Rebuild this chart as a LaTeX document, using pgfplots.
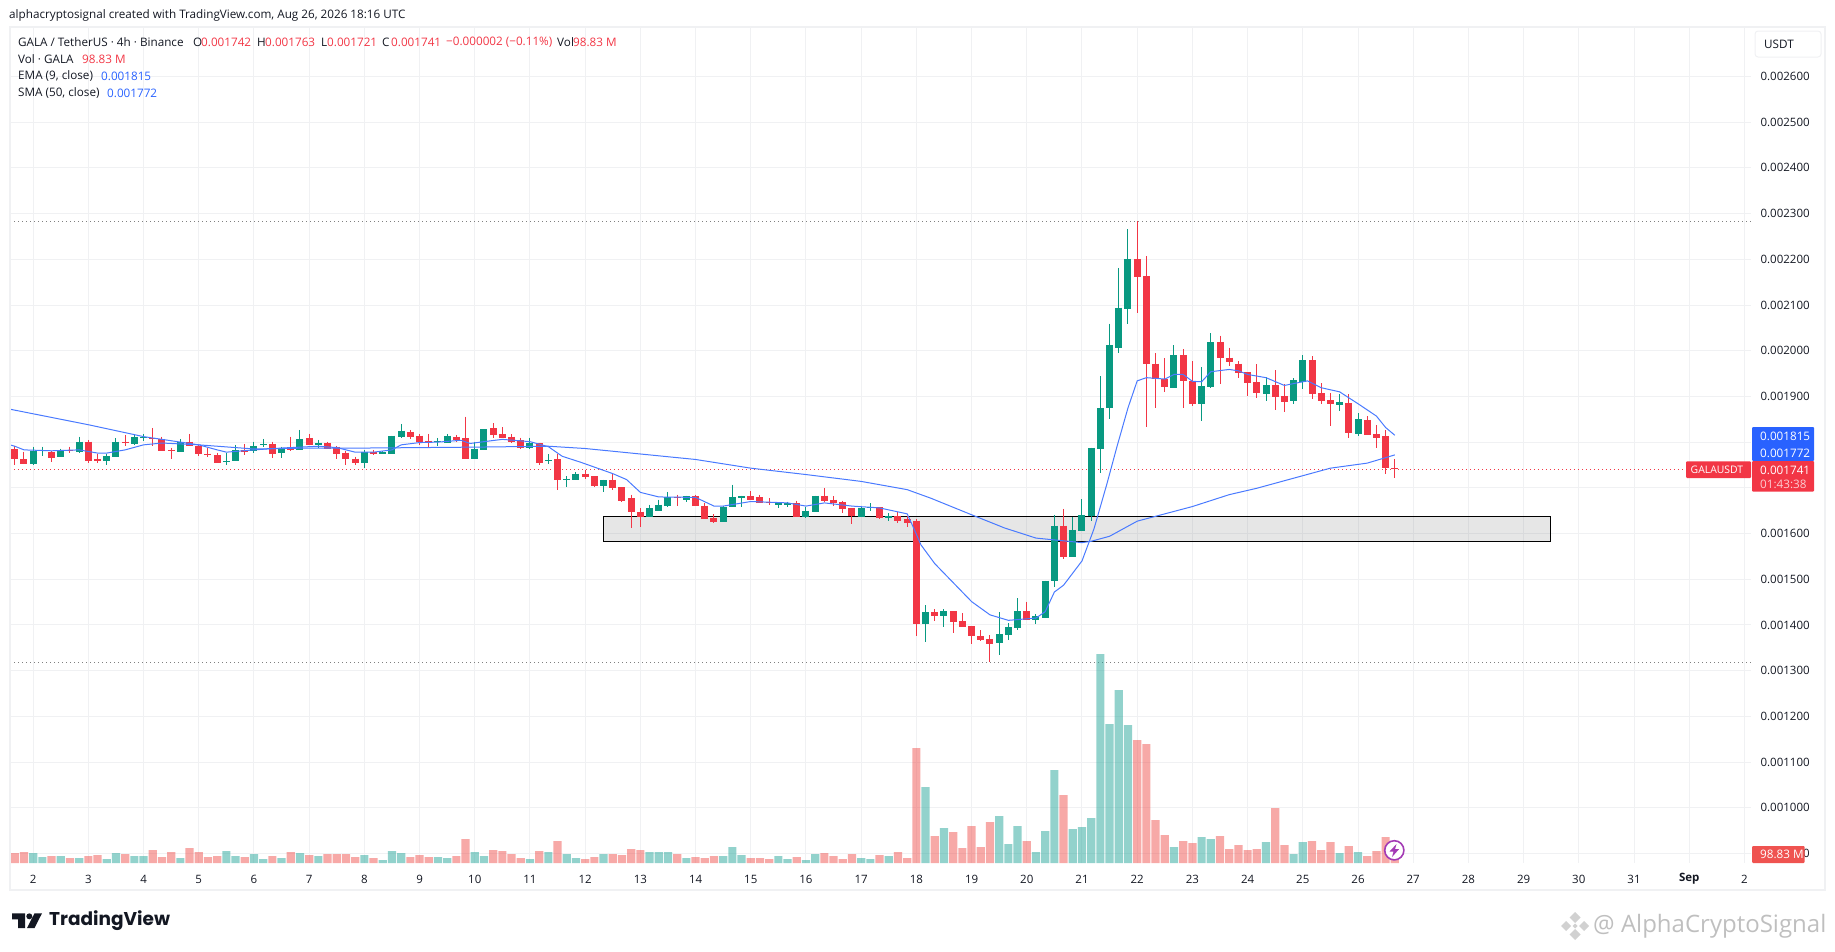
\documentclass[border=0pt]{standalone}
\usepackage{fontspec}
\setmainfont{Open Sans}
\newfontfamily\logofont{Poppins}
\usepackage{pgfplots}
\usepackage{pgfplotstable}
\pgfplotsset{compat=1.18}

\definecolor{tvred}{HTML}{F23645}
\definecolor{tvgreen}{HTML}{089981}
\definecolor{tvblue}{HTML}{2962FF}
\definecolor{tvtext}{HTML}{131722}
\definecolor{tvgrid}{HTML}{F0F1F3}
\definecolor{volred}{HTML}{EF5350}
\definecolor{volgreen}{HTML}{26A69A}
\definecolor{tvpurple}{HTML}{A33AB5}

% k = candles since the 2nd (6 per day), prices in millionths of USDT, v in millions
\pgfplotstableread{
k o h l c v
-2 1786 1792 1751 1762 330
-1 1762 1779 1753 1753 363
0 1753 1790 1751 1781 330
1 1780 1790 1770 1782 198
2 1779 1781 1757 1766 231
3 1768 1786 1768 1783 231
4 1783 1790 1777 1781 165
5 1779 1812 1777 1801 165
6 1801 1805 1755 1759 231
7 1762 1775 1755 1759 264
8 1759 1775 1749 1770 132
9 1768 1809 1768 1801 330
10 1801 1816 1792 1799 297
11 1796 1816 1794 1812 231
12 1810 1818 1803 1812 231
13 1809 1831 1792 1807 429
14 1807 1812 1781 1781 198
15 1783 1788 1764 1781 363
16 1779 1807 1779 1801 165
17 1801 1818 1792 1792 495
18 1792 1794 1770 1775 363
19 1775 1788 1768 1772 198
20 1772 1777 1755 1755 231
21 1757 1777 1749 1759 396
22 1759 1794 1759 1783 231
23 1783 1796 1772 1779 198
24 1781 1801 1777 1792 297
25 1794 1807 1790 1796 132
26 1796 1801 1766 1775 231
27 1777 1790 1766 1788 165
28 1790 1812 1781 1783 363
29 1783 1827 1783 1807 330
30 1809 1818 1794 1794 264
31 1794 1805 1788 1799 231
32 1799 1801 1786 1786 297
33 1790 1792 1764 1775 297
34 1777 1781 1751 1762 297
35 1764 1768 1751 1755 198
36 1755 1783 1744 1779 264
37 1779 1783 1772 1775 165
38 1775 1781 1775 1778 99
39 1775 1814 1775 1814 396
40 1812 1840 1809 1825 330
41 1822 1827 1807 1812 198
42 1814 1818 1794 1801 264
43 1803 1818 1790 1801 198
44 1800 1809 1792 1802 198
45 1799 1818 1799 1814 165
46 1812 1816 1801 1805 231
47 1808 1856 1762 1764 792
48 1764 1801 1762 1786 363
49 1782 1828 1782 1828 231
50 1830 1841 1808 1815 429
51 1817 1832 1808 1810 396
52 1812 1817 1799 1801 297
53 1804 1810 1786 1788 165
54 1788 1810 1784 1797 132
55 1797 1797 1751 1755 396
56 1758 1773 1753 1760 363
57 1762 1773 1696 1716 726
58 1718 1725 1701 1720 297
59 1718 1734 1718 1731 165
60 1731 1738 1720 1723 132
61 1725 1725 1701 1705 198
62 1703 1718 1690 1716 297
63 1718 1731 1696 1699 297
64 1701 1701 1670 1672 264
65 1677 1685 1613 1646 462
66 1648 1655 1615 1637 429
67 1637 1663 1637 1655 363
68 1650 1674 1650 1663 363
69 1661 1690 1657 1679 363
70 1679 1685 1661 1677 297
71 1674 1683 1670 1681 165
72 1681 1685 1661 1661 198
73 1661 1666 1631 1631 165
74 1633 1642 1622 1626 231
75 1626 1661 1626 1659 231
76 1657 1707 1657 1679 528
77 1677 1683 1659 1681 264
78 1681 1692 1674 1674 165
79 1679 1685 1666 1666 165
80 1668 1677 1663 1666 132
81 1663 1666 1655 1666 231
82 1663 1670 1657 1666 132
83 1666 1672 1637 1637 198
84 1637 1657 1635 1650 99
85 1648 1683 1648 1683 297
86 1683 1699 1670 1672 330
87 1674 1681 1661 1666 231
88 1668 1672 1644 1653 132
89 1655 1655 1620 1639 297
90 1637 1661 1637 1655 165
91 1657 1666 1650 1659 132
92 1657 1657 1631 1633 264
93 1633 1644 1628 1639 231
94 1639 1646 1624 1628 363
95 1631 1639 1615 1624 165
96 1628 1632 1375 1401 3795
97 1401 1443 1362 1428 2508
98 1428 1434 1408 1419 891
99 1419 1434 1395 1430 1155
100 1430 1430 1382 1406 1023
101 1408 1425 1395 1395 495
102 1397 1397 1358 1375 1221
103 1375 1388 1364 1367 528
104 1369 1378 1318 1358 1353
105 1360 1428 1334 1380 1551
106 1378 1404 1367 1395 627
107 1393 1458 1388 1430 1221
108 1430 1451 1410 1410 726
109 1410 1423 1401 1419 363
110 1415 1497 1415 1497 1056
111 1495 1641 1482 1617 3069
112 1617 1654 1545 1549 2244
113 1549 1636 1549 1608 1122
114 1606 1675 1606 1641 1188
115 1638 1788 1628 1788 1485
116 1786 1944 1733 1875 6897
117 1875 2059 1851 2012 4587
118 2007 2181 1994 2094 5709
119 2092 2266 2059 2201 4554
120 2201 2283 2083 2162 4059
121 2164 2207 1833 1970 3927
122 1972 1994 1875 1938 1419
123 1938 1983 1909 1920 924
124 1918 2012 1918 1990 528
125 1990 2003 1875 1933 726
126 1933 1977 1879 1883 660
127 1883 1964 1846 1922 858
128 1920 2038 1918 2018 792
129 2018 2033 1927 1983 891
130 1985 2007 1966 1975 462
131 1972 1977 1940 1951 594
132 1953 1953 1900 1929 429
133 1931 1970 1896 1907 462
134 1905 1942 1889 1924 693
135 1924 1957 1870 1898 1815
136 1900 1927 1865 1887 594
137 1889 1940 1883 1935 297
138 1931 1990 1916 1979 693
139 1979 1988 1894 1905 726
140 1907 1929 1883 1889 429
141 1892 1907 1835 1883 693
142 1881 1905 1868 1887 330
143 1885 1905 1809 1820 561
144 1817 1863 1813 1850 363
145 1848 1857 1815 1815 231
146 1817 1837 1787 1809 396
147 1813 1826 1730 1743 858
148 1743 1763 1721 1741 99
}\candles

\pgfplotstableread{
k p
-2.52 1872
6 1838
12 1812
18 1794
24 1785
30 1787
36 1787
42 1788
48 1789
56 1791
60 1786
66 1774
72 1762
78 1743
84 1729
90 1714
95 1696
97.6 1677
102 1641
105.6 1612
109 1590
111 1586
114 1580
115 1583
117 1594
120 1627
123 1643
126 1659
130 1685
133 1699
141 1743
145 1754
148 1772
}\sma

\pgfplotstableread{
k p
-2.52 1794
-2 1791
-1 1783
2 1781
5 1783
7 1776
8 1776
10 1783
12 1794
14 1798
18 1794
20 1783
21 1778
24 1783
27 1787
31 1791
33 1788
35 1778
37 1778
39 1783
40 1794
42 1799
44 1800
46.5 1804
47.5 1797
49 1801
51 1806
54 1801
56 1790
57.5 1769
59.5 1756
63 1731
64.5 1718
66 1690
68 1680
72 1679
74 1660
75 1660
78 1670
82 1667
84 1660
86 1667
89 1660
92 1656
95 1643
95.7 1612
96.5 1575
98 1534
102 1451
104 1422
106 1410
109 1415
110 1429
111 1472
112 1487
114 1540
115.3 1610
116.7 1708
117.8 1790
119 1875
120 1934
121 1941
123 1938
124 1948
125 1948
126 1933
127 1932
128 1954
130 1959
131 1956
132 1948
134 1941
136 1924
138.5 1934
140 1919
142 1910
144 1884
146 1857
147 1832
148 1815
}\ema

\pgfplotsset{
  wick/.style={draw=none, mark=none, forget plot,
    error bars/.cd, y dir=minus, y explicit, error mark=none,
    error bar style={line width=1pt, draw=#1}},
  body/.style={draw=none, mark=none, forget plot,
    error bars/.cd, y dir=minus, y explicit, error mark=none,
    error bar style={line width=7pt, draw=#1}},
}

\newcommand\txt[4]{\node[anchor=west, inner sep=0pt, text=#3, font=\fontsize{11.7}{13}\selectfont] at (#1,#2) {#4};}

\begin{document}
\begin{tikzpicture}
\useasboundingbox (0pt,0pt) rectangle (1835pt,-951pt);

\begin{axis}[
  at={(10pt,-863pt)}, anchor=south west, scale only axis,
  width=1741pt, height=836pt,
  xmin=-2.52, xmax=186.72, ymin=879, ymax=2708.3,
  axis line style={draw=none},
  major tick length=0pt,
  xmajorgrids, ymajorgrids,
  grid style={tvgrid, line width=1pt},
  xtick={0,6,...,186},
  xticklabels={2,3,4,5,6,7,8,9,10,11,12,13,14,15,16,17,18,19,20,21,22,23,24,25,26,27,28,29,30,31,\textbf{Sep},2},
  ytick={900,1000,...,2600},
  % 0.001700 and 0.001800 sit behind the price boxes
  yticklabels={0.000900,0.001000,0.001100,0.001200,0.001300,0.001400,0.001500,0.001600,,,0.001900,0.002000,0.002100,0.002200,0.002300,0.002400,0.002500,0.002600},
  yticklabel pos=right,
  tick label style={font=\fontsize{11.5}{13}\selectfont, text=tvtext},
  xticklabel style={anchor=center, yshift=-16pt},
  yticklabel style={anchor=west, xshift=6pt},
]
% support zone
\addplot[fill=gray, fill opacity=0.2, draw=black, line width=1pt] coordinates {(62,1583) (164.9,1583) (164.9,1638) (62,1638)} --cycle;
% high, low and last price
\addplot[draw=gray, line width=1pt, dash pattern=on 1pt off 3pt] coordinates {(-2.52,2283) (186.72,2283)};
\addplot[draw=gray, line width=1pt, dash pattern=on 1pt off 3pt] coordinates {(-2.52,1318) (186.72,1318)};
\addplot[draw=tvred, line width=1pt, dash pattern=on 1pt off 3pt] coordinates {(-2.52,1741) (186.72,1741)};

\addplot[wick=tvgreen] table[x=k, y expr={\thisrow{c}>\thisrow{o} ? \thisrow{h} : nan}, y error minus expr={\thisrow{h}-\thisrow{l}}] {\candles};
\addplot[wick=tvred] table[x=k, y expr={\thisrow{c}>\thisrow{o} ? nan : \thisrow{h}}, y error minus expr={\thisrow{h}-\thisrow{l}}] {\candles};
\addplot[body=tvgreen] table[x=k, y expr={\thisrow{c}>\thisrow{o} ? \thisrow{c} : nan}, y error minus expr={abs(\thisrow{c}-\thisrow{o})}] {\candles};
\addplot[body=tvred] table[x=k, y expr={\thisrow{c}>\thisrow{o} ? nan : \thisrow{o}}, y error minus expr={abs(\thisrow{c}-\thisrow{o})}] {\candles};

\addplot[draw=tvblue!85!white, line width=1pt] table[x=k, y=p] {\sma};
\addplot[draw=tvblue!85!white, line width=1pt] table[x=k, y=p] {\ema};
\end{axis}

% volume pane, 33 M to the pixel
\begin{axis}[
  at={(10pt,-863pt)}, anchor=south west, scale only axis,
  width=1741pt, height=836pt,
  xmin=-2.52, xmax=186.72, ymin=0, ymax=27588,
  hide axis, ybar, bar width=8.2pt, bar shift=0pt,
]
\addplot[fill=volgreen, fill opacity=0.5, draw=none] table[x=k, y expr={\thisrow{c}>\thisrow{o} ? \thisrow{v} : nan}] {\candles};
\addplot[fill=volred, fill opacity=0.5, draw=none] table[x=k, y expr={\thisrow{c}>\thisrow{o} ? nan : \thisrow{v}}] {\candles};
\end{axis}

\begin{scope}[x=1pt, y=-1pt]
% frame
\draw[tvgrid, line width=1.5pt] (10,27) rectangle (1825,890);

% header and legend
\txt{9}{15}{tvtext}{alphacryptosignal created with TradingView.com, Aug 26, 2026 18:16 UTC}
\txt{18}{42.3}{tvtext}{GALA / TetherUS · 4h · Binance}
\txt{193}{42.3}{tvtext}{O}
\txt{201}{42.3}{tvred}{0.001742}
\txt{257}{42.3}{tvtext}{H}
\txt{265}{42.3}{tvred}{0.001763}
\txt{321}{42.3}{tvtext}{L}
\txt{327}{42.3}{tvred}{0.001721}
\txt{382}{42.3}{tvtext}{C}
\txt{391}{42.3}{tvred}{0.001741}
\txt{446}{42.3}{tvred}{−0.000002 (−0.11\%)}
\txt{557}{42.3}{tvtext}{Vol}
\txt{573}{42.3}{tvred}{98.83 M}
\txt{18}{59.3}{tvtext}{Vol · GALA}
\txt{82}{59.3}{tvred}{98.83 M}
\txt{18}{76.3}{tvtext}{EMA (9, close)}
\txt{101}{76.3}{tvblue}{0.001815}
\txt{18}{93.3}{tvtext}{SMA (50, close)}
\txt{107}{93.3}{tvblue}{0.001772}

% currency button
\draw[tvgrid, fill=white, line width=1pt, rounded corners=3pt] (1755,31) rectangle (1821,57);
\txt{1764}{44.5}{tvtext}{USDT}

% price scale labels
\fill[tvblue, rounded corners=1pt] (1752,427) rectangle (1814,461);
\fill[tvred, rounded corners=1pt] (1752,461) rectangle (1814,491.7);
\fill[tvred, rounded corners=1pt] (1686,461.3) rectangle (1751,478);
\txt{1760}{436.5}{white}{0.001815}
\txt{1760}{453.7}{white}{0.001772}
\txt{1760}{470.5}{white}{0.001741}
\txt{1760}{484.5}{white!75!tvred}{01:43:38}
\node[anchor=west, inner sep=0pt, text=white, font=\fontsize{10.4}{12}\selectfont] at (1690.5,470) {GALAUSDT};
\fill[volred, rounded corners=1pt] (1752,846) rectangle (1804.7,863);
\txt{1760}{854.5}{white}{98.83 M}

% lightning badge
\draw[draw=tvpurple, fill=white, line width=1.6pt] (1394.3,850.3) circle (9.6);
\fill[tvpurple] (1396.5,844) -- (1389.5,851.5) -- (1393.5,851.5) -- (1392,857) -- (1399,849.2) -- (1395,849.2) -- cycle;

% logo
\fill[tvtext] (12,913.3) -- (25,913.3) -- (25,928) -- (18,928) -- (18,919.3) -- (12,919.3) -- cycle;
\fill[tvtext] (29.3,916.3) circle (3);
\fill[tvtext] (34.5,913.3) -- (42,913.3) -- (34.5,928) -- (27,928) -- cycle;
\node[anchor=west, inner sep=0pt, text=tvtext, font=\logofont\bfseries\fontsize{18.5}{20}\selectfont] at (49,921) {TradingView};

% watermark
\begin{scope}[fill=black!18]
\fill (1575,912) -- (1580.5,917.5) -- (1575,923) -- (1569.5,917.5) -- cycle;
\fill (1566,921) -- (1571,926) -- (1566,931) -- (1561,926) -- cycle;
\fill (1584,921) -- (1589,926) -- (1584,931) -- (1579,926) -- cycle;
\fill (1575,923.5) -- (1577.5,926) -- (1575,928.5) -- (1572.5,926) -- cycle;
\fill (1575,929) -- (1580.5,934.5) -- (1575,940) -- (1569.5,934.5) -- cycle;
\end{scope}
\node[anchor=west, inner sep=0pt, text=black!25, font=\fontsize{24}{26}\selectfont] at (1593,926) {@ AlphaCryptoSignal};
\end{scope}
\end{tikzpicture}
\end{document}
